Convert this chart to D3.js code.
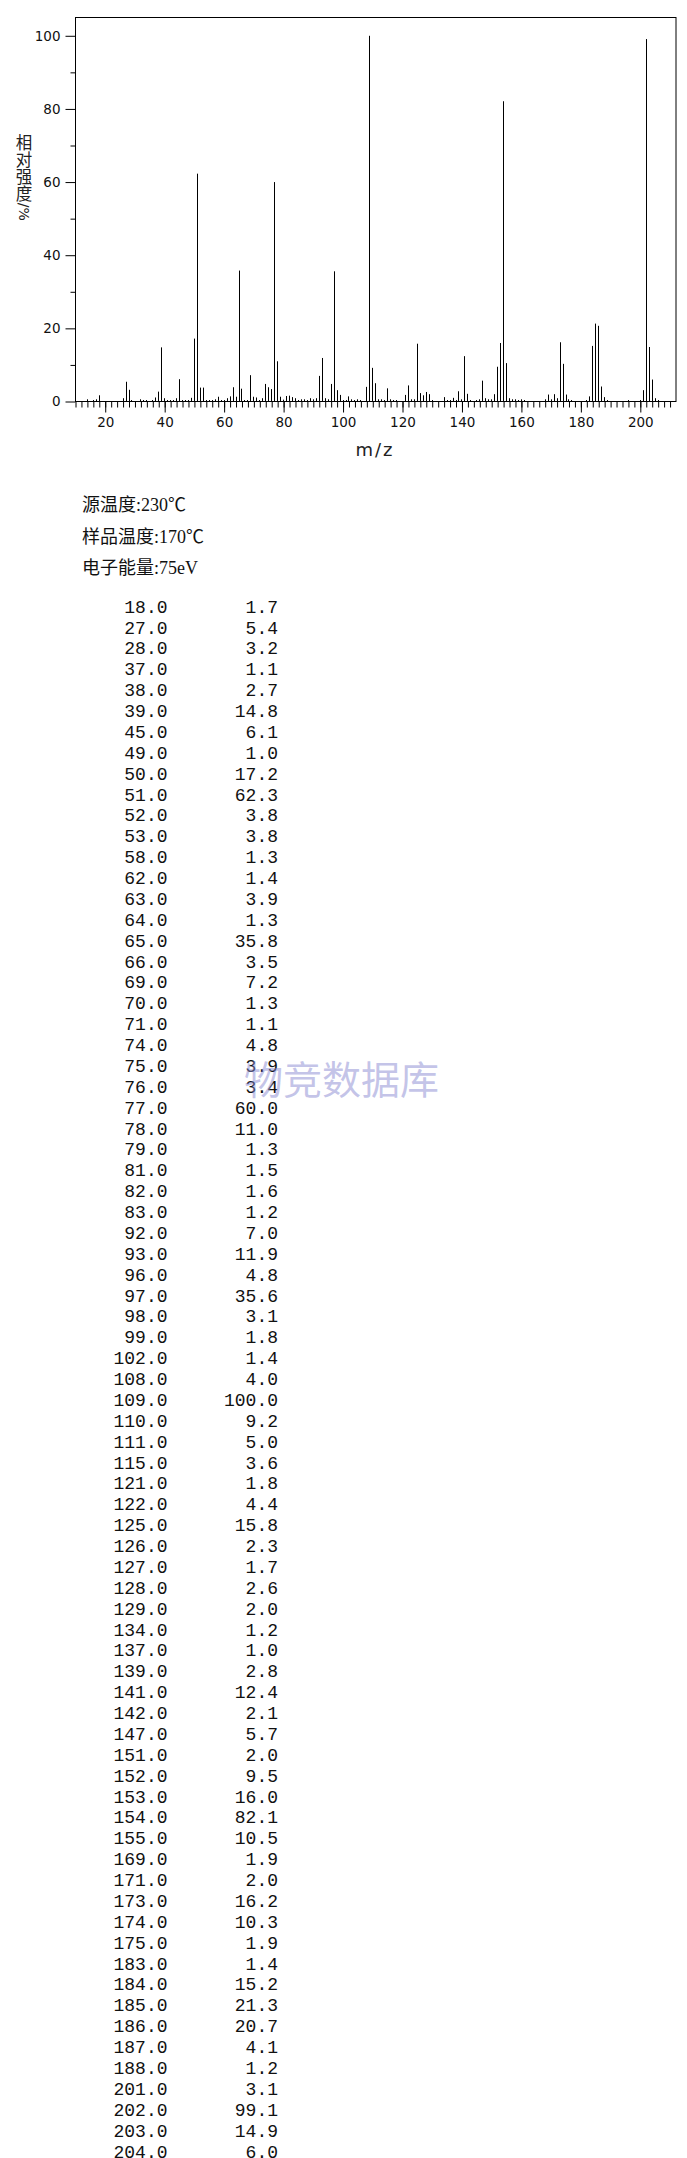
<!DOCTYPE html>
<html><head><meta charset="utf-8">
<script src="https://cdn.jsdelivr.net/npm/d3@7"></script>
<style>html,body{margin:0;padding:0;background:#fff;} svg{display:block;}</style>
</head><body>
<script>
// Listed peaks (table)
const tableMz = [18,27,28,37,38,39,45,49,50,51,52,53,58,62,63,64,65,66,69,70,71,74,75,76,77,78,79,81,82,83,92,93,96,97,98,99,102,108,109,110,111,115,121,122,125,126,127,128,129,134,137,139,141,142,147,151,152,153,154,155,169,171,173,174,175,183,184,185,186,187,188,201,202,203,204];
const tableIntensity = [1.7,5.4,3.2,1.1,2.7,14.8,6.1,1.0,17.2,62.3,3.8,3.8,1.3,1.4,3.9,1.3,35.8,3.5,7.2,1.3,1.1,4.8,3.9,3.4,60.0,11.0,1.3,1.5,1.6,1.2,7.0,11.9,4.8,35.6,3.1,1.8,1.4,4.0,100.0,9.2,5.0,3.6,1.8,4.4,15.8,2.3,1.7,2.6,2.0,1.2,1.0,2.8,12.4,2.1,5.7,2.0,9.5,16.0,82.1,10.5,1.9,2.0,16.2,10.3,1.9,1.4,15.2,21.3,20.7,4.1,1.2,3.1,99.1,14.9,6.0];
// Small unlisted peaks (estimated from the plot)
const minorMz = [14,16,17,26,29,32,33,34,36,40,41,42,43,44,46,47,48,54,55,56,57,59,60,61,67,68,72,73,80,84,85,86,87,88,89,90,91,94,95,100,101,103,104,105,106,112,113,114,116,117,118,123,124,130,135,136,138,140,143,145,146,148,149,150,156,157,158,159,160,161,168,170,172,176,177,182,189,196,200,205,206];
const minorIntensity = [0.6,0.4,0.6,0.9,0.4,0.6,0.4,0.4,0.4,0.9,0.4,0.4,0.4,0.9,0.4,0.4,0.4,0.4,0.4,0.4,0.6,0.4,0.4,0.9,0.4,0.4,0.4,0.9,0.5,0.9,0.4,0.6,0.6,0.4,0.9,0.6,0.9,0.9,0.6,0.4,0.4,0.6,0.4,0.6,0.4,0.6,0.6,0.4,0.6,0.4,0.4,0.6,0.6,0.4,0.4,0.4,0.4,0.6,0.4,0.4,0.6,0.9,0.6,0.6,0.9,0.6,0.6,0.4,0.6,0.4,0.6,0.6,0.9,0.6,0.4,0.4,0.4,0.4,0.4,0.9,0.4];
const xMajorTicks = [20,40,60,80,100,120,140,160,180,200];
const xMinorTicks = d3.range(10, 212, 2);
const yMajorTicks = [0,20,40,60,80,100];
const yMinorTicks = [10,30,50,70,90];
const infoLines = ["源温度:230℃","样品温度:170℃","电子能量:75eV"];
const xLabel = "m/z";
const yLabel = "相对强度/%";
const watermarkText = "物竞数据库";

const W = 687, H = 2158;
const svg = d3.select("body").append("svg").attr("width", W).attr("height", H);
svg.append("rect").attr("width", W).attr("height", H).attr("fill", "#fff");

const x = d3.scaleLinear().domain([10, 212]).range([75.5, 676]);
const y = d3.scaleLinear().domain([0, 105]).range([401.5, 17.5]);

const axisFont = "'DejaVu Sans', sans-serif";

// minor axes
svg.append("g").attr("transform", `translate(0,${y(0)})`)
  .call(d3.axisBottom(x).tickValues(xMinorTicks).tickSize(6).tickFormat(""))
  .call(g => g.select(".domain").remove());
svg.append("g").attr("transform", `translate(0,${y(0)})`)
  .call(d3.axisBottom(x).tickValues(xMajorTicks).tickSize(11).tickPadding(5).tickFormat(d3.format("d")))
  .call(g => g.select(".domain").remove())
  .call(g => g.selectAll("text").attr("font-family", axisFont).attr("font-size", 13.5).attr("fill", "#111"));
svg.append("g").attr("transform", `translate(${x(10)},0)`)
  .call(d3.axisLeft(y).tickValues(yMinorTicks).tickSize(5).tickFormat(""))
  .call(g => g.select(".domain").remove());
svg.append("g").attr("transform", `translate(${x(10)},0)`)
  .call(d3.axisLeft(y).tickValues(yMajorTicks).tickSize(10).tickPadding(5).tickFormat(d3.format("d")))
  .call(g => g.select(".domain").remove())
  .call(g => g.selectAll("text").attr("font-family", axisFont).attr("font-size", 13.5).attr("fill", "#111"));

// frame
svg.append("rect")
  .attr("x", x(10)).attr("y", y(105))
  .attr("width", x(212) - x(10)).attr("height", y(0) - y(105))
  .attr("fill", "none").attr("stroke", "#000").attr("stroke-width", 1);

// peaks
const peaks = tableMz.map((m, i) => ({mz: m, v: tableIntensity[i]}))
  .concat(minorMz.map((m, i) => ({mz: m, v: minorIntensity[i]})));
svg.append("g").selectAll("line").data(peaks).join("line")
  .attr("x1", d => Math.floor(x(d.mz)) + 0.5)
  .attr("x2", d => Math.floor(x(d.mz)) + 0.5)
  .attr("y1", y(0))
  .attr("y2", d => y(d.v))
  .attr("stroke", "#000").attr("stroke-width", 1);

// axis labels
svg.append("text").attr("x", 375).attr("y", 456)
  .attr("text-anchor", "middle")
  .attr("font-family", axisFont).attr("font-size", 18).attr("letter-spacing", 2)
  .attr("fill", "#222").text(xLabel);

// vertical y label: CJK chars upright and stacked, latin part rotated
const cjkPart = Array.from(yLabel).filter(c => /[\u4e00-\u9fff]/.test(c));
const latinPart = Array.from(yLabel).filter(c => !/[\u4e00-\u9fff]/.test(c)).join("");
const yl = svg.append("g").attr("font-family", "'Noto Sans CJK SC', sans-serif").attr("font-size", 16.5).attr("fill", "#222");
yl.selectAll("text.cjk").data(cjkPart).join("text").attr("class", "cjk")
  .attr("x", 24).attr("y", (d, i) => 141.5 + i * 17.3)
  .attr("text-anchor", "middle").attr("dominant-baseline", "central")
  .text(d => d);
yl.append("text")
  .attr("transform", `translate(24,${141.5 + cjkPart.length * 17.3 + 1}) rotate(90)`)
  .attr("text-anchor", "middle").attr("dominant-baseline", "central")
  .attr("font-family", axisFont).attr("font-size", 14)
  .text(latinPart);

// info lines
svg.append("g").selectAll("text").data(infoLines).join("text")
  .attr("x", 82)
  .attr("y", (d, i) => 511 + i * 31.5)
  .attr("font-family", "'Liberation Serif', 'Noto Sans CJK SC', serif")
  .attr("font-size", 18).attr("fill", "#111")
  .text(d => d);

// table
const rowY = d3.scaleLinear().domain([0, tableMz.length - 1]).range([612.7, 2157.5]);
const rows = svg.append("g").attr("font-family", "'Liberation Mono', monospace").attr("font-size", 18).attr("fill", "#111");
rows.selectAll("text.mz").data(tableMz).join("text").attr("class", "mz")
  .attr("x", 167.5).attr("y", (d, i) => rowY(i)).attr("text-anchor", "end")
  .text(d => d.toFixed(1));
rows.selectAll("text.iv").data(tableIntensity).join("text").attr("class", "iv")
  .attr("x", 278).attr("y", (d, i) => rowY(i)).attr("text-anchor", "end")
  .text(d => d.toFixed(1));

// watermark
svg.append("text").attr("x", 244).attr("y", 1094)
  .attr("font-family", "'Noto Sans CJK SC', sans-serif").attr("font-size", 39)
  .attr("fill", "#8989d1").attr("fill-opacity", 0.5)
  .text(watermarkText);
</script>
</body></html>
